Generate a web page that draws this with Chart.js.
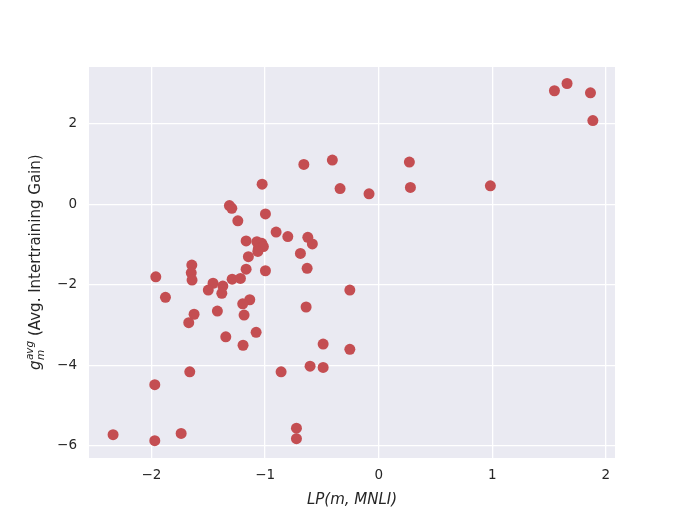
<!DOCTYPE html>
<html>
<head>
<meta charset="utf-8">
<script src="https://cdn.jsdelivr.net/npm/chart.js@4.4.1/dist/chart.umd.min.js"></script>
<style>
  html, body { margin: 0; padding: 0; background: #fff; }
  #wrap { width: 689px; height: 520px; position: relative; }
</style>
</head>
<body>
<div id="wrap"><canvas id="c" width="689" height="520"></canvas></div>
<script>
// LP(m, MNLI) vs. average intertraining gain, one point per model
const lpMnli = [
  -0.659, -0.408, -0.34, -1.026, -1.314, -1.293, -0.997, -1.24, -0.903, -0.80,
  -0.624, -0.584, -1.167, -1.072, -1.029, -1.059, -1.015, -1.064, -0.689, -1.147,
  -0.63, -1.645, -1.65, -1.643, -1.962, -1.167, -0.997, -1.29, -1.217, -1.458,
  -1.50, -1.372, -1.381, -1.877, -0.254, -1.135, -1.197, -0.639, -1.42, -1.185,
  -1.625, -1.672, -1.079, -1.346, -1.194, -0.489, -0.254, -1.663, -0.859, -0.604,
  -0.489, -1.971, -2.338, -1.739, -1.971, -0.724, -0.724, -0.085, 0.27, 0.279,
  0.983, 1.547, 1.658, 1.864, 1.885
];
const avgGain = [
  0.99, 1.10, 0.39, 0.50, -0.03, -0.10, -0.24, -0.41, -0.69, -0.80,
  -0.82, -0.985, -0.91, -0.93, -0.97, -1.09, -1.05, -1.17, -1.22, -1.30,
  -1.59, -1.51, -1.70, -1.88, -1.80, -1.61, -1.65, -1.86, -1.84, -1.96,
  -2.13, -2.03, -2.21, -2.31, -2.13, -2.37, -2.47, -2.55, -2.65, -2.75,
  -2.73, -2.94, -3.18, -3.29, -3.50, -3.47, -3.60, -4.16, -4.16, -4.02,
  -4.05, -4.48, -5.72, -5.69, -5.87, -5.56, -5.82, 0.26, 1.05, 0.42,
  0.46, 2.82, 3.00, 2.77, 2.08
];
const xTicks = [-2, -1, 0, 1, 2];
const yTicks = [-6, -4, -2, 0, 2];

const RED = '#c44e52';
const BG = '#eaeaf2';
const TXT = '#262626';
const FONT = 'DejaVu Sans';

const points = lpMnli.map((x, i) => ({ x, y: avgGain[i] }));

// grey plot background
const bgPlugin = {
  id: 'bg',
  beforeDraw(chart) {
    const { ctx, chartArea: a } = chart;
    ctx.save();
    ctx.fillStyle = BG;
    ctx.fillRect(a.left, a.top, a.right - a.left, a.bottom - a.top);
    ctx.restore();
  }
};

// y title with g_m^avg, drawn by hand
const yTitlePlugin = {
  id: 'ytitle',
  afterDraw(chart) {
    const { ctx, chartArea: a } = chart;
    const big = 15, small = 10.5;
    const rest = ' (Avg. Intertraining Gain)';
    ctx.save();
    ctx.font = 'italic ' + big + 'px "' + FONT + '"';
    const wg = ctx.measureText('g').width;
    ctx.font = 'italic ' + small + 'px "' + FONT + '"';
    const wSup = ctx.measureText('avg').width;
    const wSub = ctx.measureText('m').width;
    const wScr = Math.max(wSup, wSub);
    ctx.font = big + 'px "' + FONT + '"';
    const wRest = ctx.measureText(rest).width;
    const total = wg + wScr + wRest;
    ctx.translate(40, (a.top + a.bottom) / 2);
    ctx.rotate(-Math.PI / 2);
    ctx.fillStyle = TXT;
    ctx.textBaseline = 'alphabetic';
    let x = -total / 2;
    ctx.font = 'italic ' + big + 'px "' + FONT + '"';
    ctx.fillText('g', x, 0);
    x += wg + 0.5;
    ctx.font = 'italic ' + small + 'px "' + FONT + '"';
    ctx.fillText('avg', x, -7);
    ctx.fillText('m', x, 4);
    x += wScr;
    ctx.font = big + 'px "' + FONT + '"';
    ctx.fillText(rest, x, 0);
    ctx.restore();
  }
};

new Chart(document.getElementById('c'), {
  type: 'scatter',
  data: {
    datasets: [{
      data: points,
      backgroundColor: RED,
      borderColor: RED,
      borderWidth: 0,
      pointRadius: 5.5,
      pointHoverRadius: 5.5,
    }],
  },
  options: {
    responsive: false,
    animation: false,
    events: [],
    layout: { padding: { left: 0, right: 74, top: 67, bottom: 11 } },
    plugins: {
      legend: { display: false },
      tooltip: { enabled: false },
    },
    scales: {
      x: {
        type: 'linear',
        min: -2.55, max: 2.08,
        afterBuildTicks: s => { s.ticks = xTicks.map(v => ({ value: v })); },
        afterFit: s => { s.height = 51; },
        grid: { color: '#ffffff', lineWidth: 1.3, drawTicks: false },
        border: { display: false },
        ticks: {
          color: TXT, padding: 9,
          font: { size: 13.5, family: FONT },
          callback: v => (v < 0 ? '\u2212' + Math.abs(v) : String(v)),
        },
        title: {
          display: true, text: 'LP(m, MNLI)', color: TXT,
          font: { size: 15, family: FONT, style: 'italic' },
          padding: { top: 2, bottom: 0 },
        },
      },
      y: {
        type: 'linear',
        min: -6.30, max: 3.41,
        afterBuildTicks: s => { s.ticks = yTicks.map(v => ({ value: v })); },
        afterFit: s => { s.width = 89; },
        grid: { color: '#ffffff', lineWidth: 1.3, drawTicks: false },
        border: { display: false },
        ticks: {
          color: TXT, padding: 12,
          font: { size: 13.5, family: FONT },
          callback: v => (v < 0 ? '\u2212' + Math.abs(v) : String(v)),
        },
      },
    },
  },
  plugins: [bgPlugin, yTitlePlugin],
});
</script>
</body>
</html>
